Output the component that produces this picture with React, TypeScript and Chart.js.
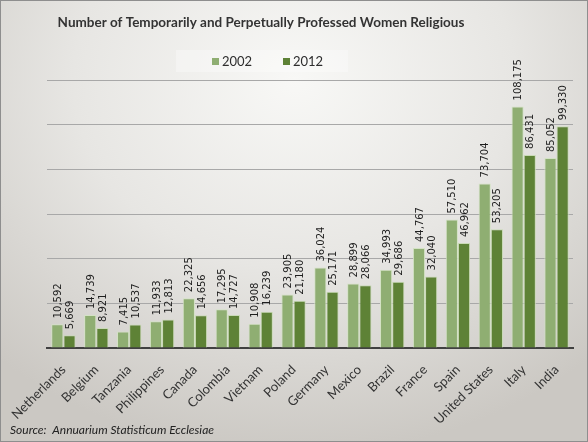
import React, { useEffect, useRef } from "react";
import { Chart, registerables, ChartConfiguration, Plugin } from "chart.js";

Chart.register(...registerables);

const countries = [
  "Netherlands",
  "Belgium",
  "Tanzania",
  "Philippines",
  "Canada",
  "Colombia",
  "Vietnam",
  "Poland",
  "Germany",
  "Mexico",
  "Brazil",
  "France",
  "Spain",
  "United States",
  "Italy",
  "India",
];
const values2002 = [
  10592, 14739, 7415, 11933, 22325, 17295, 10908, 23905, 36024, 28899, 34993,
  44767, 57510, 73704, 108175, 85052,
];
const values2012 = [
  5669, 8921, 10537, 12813, 14656, 14727, 16239, 21180, 25171, 28066, 29686,
  32040, 46962, 53205, 86431, 99330,
];
const seriesLabels = ["2002", "2012"];
const seriesColors = ["#8fae72", "#5e8236"];

const titleText = "Number of Temporarily and Perpetually Professed Women Religious";
const sourceText = "Source:  Annuarium Statisticum Ecclesiae";

// value labels written vertically above each bar
const valueLabels: Plugin<"bar"> = {
  id: "valueLabels",
  afterDatasetsDraw(chart) {
    const ctx = chart.ctx;
    ctx.save();
    ctx.font = "10px 'DejaVu Sans'";
    ctx.fillStyle = "#1e1e1e";
    ctx.textAlign = "left";
    ctx.textBaseline = "middle";
    chart.data.datasets.forEach((ds, i) => {
      chart.getDatasetMeta(i).data.forEach((bar, j) => {
        const v = ds.data[j] as number;
        ctx.save();
        ctx.translate(bar.x + 1, bar.y - 6);
        ctx.rotate(-Math.PI / 2);
        ctx.fillText(v.toLocaleString("en-US"), 0, 0);
        ctx.restore();
      });
    });
    ctx.restore();
  },
};

// title, legend panel and source note
const chrome: Plugin<"bar"> = {
  id: "chrome",
  afterDraw(chart) {
    const ctx = chart.ctx;
    ctx.save();
    ctx.fillStyle = "#333333";
    ctx.font = "bold 13.5px Lato";
    ctx.textAlign = "center";
    ctx.textBaseline = "middle";
    ctx.fillText(titleText, 261, 23);

    ctx.fillStyle = "rgba(255,255,255,0.3)";
    ctx.fillRect(176, 50, 172, 22);

    const itemX = [212, 283];
    ctx.font = "13px Lato";
    ctx.textAlign = "left";
    seriesLabels.forEach((label, i) => {
      ctx.fillStyle = seriesColors[i];
      ctx.fillRect(itemX[i], 58, 7, 7);
      ctx.fillStyle = "#2e2e2e";
      ctx.fillText(label, itemX[i] + 10, 62);
    });

    ctx.font = "italic 12px Lato";
    ctx.fillStyle = "#222222";
    ctx.fillText(sourceText, 10, 430);
    ctx.restore();
  },
};

const App: React.FC = () => {
  const canvasRef = useRef<HTMLCanvasElement | null>(null);
  const chartRef = useRef<Chart<"bar"> | null>(null);

  useEffect(() => {
    document.body.style.margin = "0";
    const canvas = canvasRef.current;
    if (!canvas) return;
    const ctx = canvas.getContext("2d");
    if (!ctx) return;

    const config: ChartConfiguration<"bar"> = {
      type: "bar",
      data: {
        labels: countries,
        datasets: [
          {
            label: seriesLabels[0],
            data: values2002,
            backgroundColor: seriesColors[0],
            borderColor: "#d3e2c4",
            borderWidth: 1,
            categoryPercentage: 0.74,
            barPercentage: 1,
          },
          {
            label: seriesLabels[1],
            data: values2012,
            backgroundColor: seriesColors[1],
            borderColor: "#c9dab6",
            borderWidth: 1,
            categoryPercentage: 0.74,
            barPercentage: 1,
          },
        ],
      },
      options: {
        animation: false,
        responsive: true,
        maintainAspectRatio: false,
        layout: { padding: { top: 80, left: 47, right: 15, bottom: 0 } },
        scales: {
          x: {
            grid: { display: false },
            border: { color: "#404040", width: 2 },
            ticks: {
              color: "#333333",
              font: { family: "Lato", size: 13 },
              minRotation: 45,
              maxRotation: 45,
              padding: 6,
            },
            afterFit: (scale: any) => {
              scale.height = 94;
              scale.paddingLeft = 0;
              scale.paddingRight = 0;
            },
          },
          y: {
            display: true,
            min: 0,
            max: 120000,
            ticks: { display: false, stepSize: 20000 },
            grid: { color: "#a8a8a8", drawTicks: false },
            border: { display: false },
            afterFit: (scale: any) => {
              scale.width = 0;
            },
          },
        },
        plugins: {
          legend: { display: false },
          title: { display: false },
          tooltip: { enabled: false },
        },
      },
      plugins: [valueLabels, chrome],
    };

    chartRef.current = new Chart(ctx, config);
    return () => {
      chartRef.current?.destroy();
      chartRef.current = null;
    };
  }, []);

  return (
    <div
      style={{
        position: "relative",
        width: 588,
        height: 442,
        background:
          "radial-gradient(ellipse 75% 85% at 50% 18%, #f8f8f6 0%, #e7e6e3 50%, #cbc8c3 100%)",
        boxShadow: "inset 0 0 0 1px #8e8e8e",
      }}
    >
      <canvas ref={canvasRef} style={{ width: "100%", height: "100%" }} />
    </div>
  );
};

export default App;
